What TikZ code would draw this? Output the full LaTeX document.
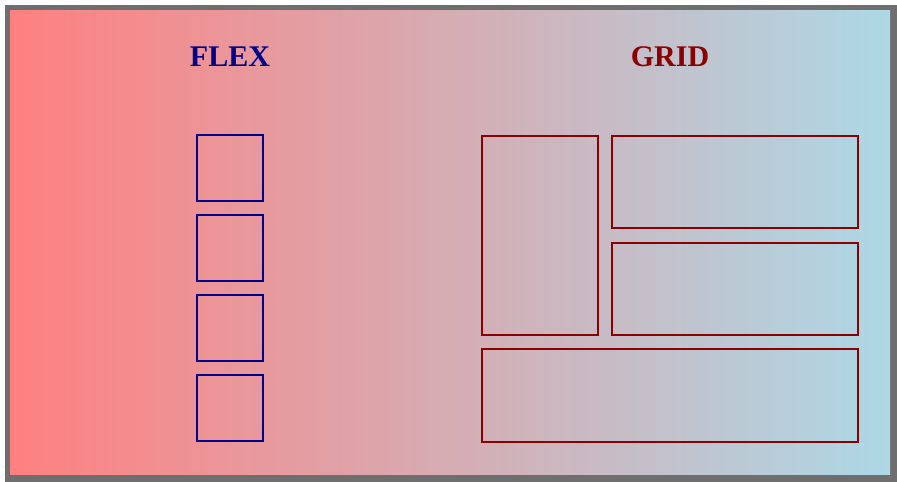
\documentclass[tikz,border=0pt]{standalone}
\usepackage{fontspec}
\setmainfont{Liberation Serif}
\definecolor{framegray}{HTML}{6E6E6E}
\definecolor{leftc}{HTML}{FF8080}
\definecolor{rightc}{HTML}{ADD8E6}
\definecolor{flexblue}{HTML}{00008B}
\definecolor{gridred}{HTML}{8B0000}
\begin{document}
\begin{tikzpicture}[x=0.75pt,y=-0.75pt,
  flexbox/.style={draw=flexblue,line width=1.5pt},
  gridbox/.style={draw=gridred,line width=1.5pt},
  title/.style={font=\fontsize{22.5pt}{27pt}\selectfont\bfseries,anchor=base,inner sep=0pt}]
\useasboundingbox (0,0) rectangle (897,482);
\fill[white] (0,0) rectangle (897,482);
\fill[framegray] (5,5) rectangle (897,482);
\shade[left color=leftc,right color=rightc] (10,10) rectangle (890,474);
\node[title,text=flexblue] (flex) at (230,66) {FLEX};
\node[title,text=gridred] (grid) at (670,66) {GRID};
\foreach \y in {135,215,295,375}{
  \draw[flexbox] (197,\y) rectangle ++(66,66);
}
\draw[gridbox] (482,136) rectangle (598,335);
\draw[gridbox] (612,136) rectangle (858,228);
\draw[gridbox] (612,243) rectangle (858,335);
\draw[gridbox] (482,349) rectangle (858,442);
\end{tikzpicture}
\end{document}
